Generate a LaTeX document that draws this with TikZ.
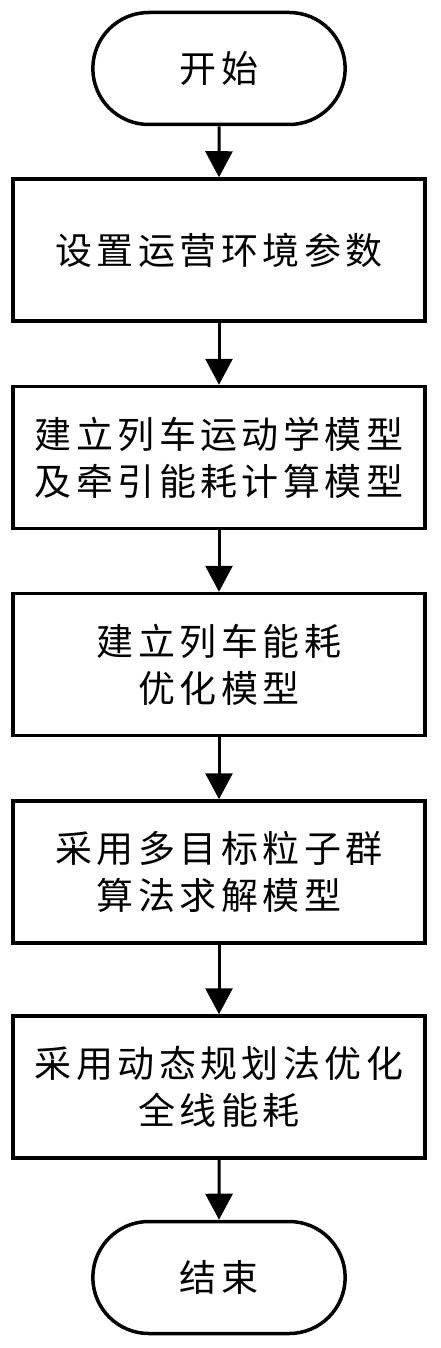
\documentclass[tikz,border=0pt]{standalone}
\usepackage{fontspec}
\setmainfont{Noto Sans CJK SC}
\newfontfamily\cjk[LetterSpace=12]{Noto Sans CJK SC}
\usetikzlibrary{shapes.misc, arrows.meta}

\begin{document}
\begin{tikzpicture}[x=1pt, y=1pt,
  terminal/.style={draw, line width=3.5pt, rounded rectangle,
    minimum width=259pt, minimum height=112pt},
  stepbox/.style={draw, line width=3.5pt, rectangle, align=center,
    minimum width=412pt, minimum height=142pt},
  flowarrow/.style={-{Triangle[width=27pt, length=26pt]}, line width=3pt},
  font=\cjk\fontsize{37}{47}\selectfont]

  % --- 1. 画布大小 ---
  \useasboundingbox (-219, 0) rectangle (221, -1348);

  % --- 2. 各步骤 (按参考图的 y 坐标) ---
  \node[terminal] (start)       at (0, -68.5)  {开始};
  \node[stepbox]  (setEnv)      at (0, -250)   {设置运营环境参数};
  \node[stepbox]  (buildModel)  at (0, -457.5) {建立列车运动学模型\\及牵引能耗计算模型};
  \node[stepbox]  (energyModel) at (0, -664.5) {建立列车能耗\\优化模型};
  \node[stepbox]  (solveModel)  at (0, -872)   {采用多目标粒子群\\算法求解模型};
  \node[stepbox]  (optAll)      at (0, -1087)  {采用动态规划法优化\\全线能耗};
  \node[terminal] (stop)        at (0, -1277.5) {结束};

  % --- 3. 连接箭头 ---
  \draw[flowarrow] (start) -- (setEnv);
  \draw[flowarrow] (setEnv) -- (buildModel);
  \draw[flowarrow] (buildModel) -- (energyModel);
  \draw[flowarrow] (energyModel) -- (solveModel);
  \draw[flowarrow] (solveModel) -- (optAll);
  \draw[flowarrow] (optAll) -- (stop);

\end{tikzpicture}
\end{document}
